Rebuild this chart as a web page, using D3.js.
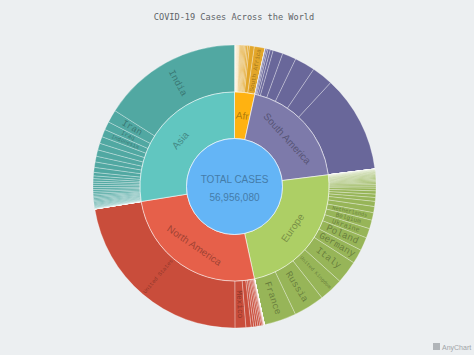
<!DOCTYPE html>
<html><head><meta charset="utf-8">
<script src="https://cdn.jsdelivr.net/npm/d3@7/dist/d3.min.js"></script>
<style>html,body{margin:0;padding:0;background:#ECEFF1;}svg{display:block}</style>
</head><body>
<svg id="chart" width="474" height="355"></svg>
<script>
const chartTitle = "COVID-19 Cases Across the World";
const centerTitle = "TOTAL CASES";
const totalCases = 56956080;

const continents = ["Africa", "South America", "Europe", "North America", "Asia"];

const africaNames = ["South Africa","Morocco","Egypt","Ethiopia","Tunisia","Libya","Kenya","Algeria","Nigeria","Ghana","Cameroon","Côte d'Ivoire","Uganda","Zambia","Madagascar","Sudan","Senegal","Mozambique","Angola","Namibia","Guinea","DR Congo","Cape Verde","Zimbabwe","Gabon","Botswana","Mauritania","Eswatini","Malawi","Rwanda","Djibouti","Congo","Equatorial Guinea","Central African Republic","Somalia","Mali","Gambia","South Sudan","Benin","Burkina Faso","Togo","Sierra Leone","Lesotho","Chad","Liberia","Niger","Sao Tome and Principe","Burundi","Comoros","Eritrea","Tanzania","Mauritius","Seychelles"];
const africaValues = [690000,318000,112000,104000,87000,78000,74000,71000,66000,51000,24000,21000,18000,17500,17300,16600,15900,14800,14400,14000,12900,12200,10300,9200,9100,8200,8000,6200,6000,5800,5700,5500,5100,4900,4400,4200,3700,3000,2800,2700,2700,2400,2000,1600,1500,1300,970,660,590,550,510,490,160];

const southAmericaNames = ["Brazil","Argentina","Colombia","Peru","Chile","Ecuador","Bolivia","Venezuela","Paraguay","French Guiana","Suriname","Guyana","Uruguay","Falkland Islands"];
const southAmericaValues = [6330000,1380000,1330000,900000,640000,190000,145000,100000,80000,11000,5400,5200,4300,20];

const europeNames = ["France","Russia","United Kingdom","Italy","Germany","Poland","Ukraine","Belgium","Netherlands","Czechia","Romania","Switzerland","Portugal","Austria","Sweden","Hungary","Serbia","Belarus","Bulgaria","Croatia","Moldova","Slovakia","Greece","Ireland","Denmark","Bosnia and Herzegovina","Slovenia","North Macedonia","Lithuania","Norway","Albania","Luxembourg","Montenegro","Finland","Kosovo","Latvia","Malta","Estonia","Andorra","Iceland","San Marino","Liechtenstein","Gibraltar","Jersey","Monaco","Faeroe Islands","Isle of Man","Guernsey","Vatican"];
const europeValues = [2100000,2000000,1560000,1480000,930000,860000,620000,560000,490000,400000,330000,250000,220000,210000,170000,130000,100000,100000,85000,80000,80000,75000,70000,62000,60000,58000,50000,45000,40000,31000,30000,29000,28000,21000,20000,10000,9000,8000,6000,5000,1500,1200,900,700,600,500,400,300,27];

const northAmericaNames = ["United States","Mexico","Canada","Panama","Dominican Republic","Costa Rica","Guatemala","Honduras","Puerto Rico","El Salvador","Jamaica","Haiti","Cuba","Guadeloupe","Bahamas","Trinidad and Tobago","Martinique","Belize","Aruba","Nicaragua","Curaçao","US Virgin Islands","Sint Maarten","Turks and Caicos","Cayman Islands","Barbados","Bermuda","Saint Lucia","Antigua and Barbuda","Saint Vincent","Dominica","Grenada","Saint Kitts and Nevis","Greenland"];
const northAmericaValues = [12800000,700000,340000,160000,140000,135000,120000,105000,80000,40000,10000,9000,8000,8000,7500,6500,5500,5000,5000,5000,1500,1500,1400,700,300,260,200,150,140,80,70,40,20,18];

const asiaNames = ["India","Iran","Iraq","Indonesia","Bangladesh","Turkey","Philippines","Pakistan","Saudi Arabia","Israel","Nepal","Jordan","United Arab Emirates","Kazakhstan","Kuwait","Qatar","Japan","Oman","Armenia","Lebanon","China","Azerbaijan","Georgia","Bahrain","Palestine","Myanmar","Kyrgyzstan","Uzbekistan","Singapore","Malaysia","Afghanistan","South Korea","Sri Lanka","Tajikistan","Maldives","Syria","Hong Kong","Thailand","Yemen","Vietnam","Taiwan","Mongolia","Bhutan","Cambodia","Brunei","Macao","Timor","Laos"];
const asiaValues = [9100000,830000,540000,490000,445000,440000,415000,370000,355000,325000,220000,180000,155000,140000,140000,137000,125000,121000,120000,110000,92000,92000,85000,85000,80000,75000,70000,70000,58000,55000,45000,31000,20000,12000,12000,7000,5600,3900,2000,1300,600,500,400,300,150,50,30,20];

const countryNames = [africaNames, southAmericaNames, europeNames, northAmericaNames, asiaNames];
const countryValues = [africaValues, southAmericaValues, europeValues, northAmericaValues, asiaValues];

// styles
const innerColors = ["#FFB211", "#7D7AAA", "#ADCF65", "#E6604A", "#61C6C0"];
const outerColors = ["#E2A62A", "#69679A", "#97B558", "#C94D3B", "#51A8A2"];
const centerColor = "#64B5F6";
const hideLeafLabels = ["South America"];

const W = 474, H = 355, cx = 234.5, cy = 186.5;
const rCenter = 48, rInner = 94.5, rOuter = 141.5;

const data = {
  name: "World",
  children: continents.map((c, i) => ({
    name: c, ci: i,
    children: countryNames[i].map((n, j) => ({ name: n, ci: i, value: countryValues[i][j] }))
  }))
};

const root = d3.hierarchy(data).sum(d => d.value || 0).sort((a, b) => a.value - b.value);
d3.partition().size([2 * Math.PI, 1])(root);

const svg = d3.select("#chart");
svg.append("rect").attr("width", W).attr("height", H).attr("fill", "#ECEFF1");

svg.append("text").attr("x", W / 2 - 3).attr("y", 20).attr("text-anchor", "middle")
  .attr("font-family", "'DejaVu Sans Mono', monospace").attr("font-size", 8.6)
  .attr("fill", "#606468").text(chartTitle);

const g = svg.append("g").attr("transform", `translate(${cx},${cy})`);

const radii = { 1: [rCenter, rInner], 2: [rInner, rOuter] };
const arc = d3.arc()
  .startAngle(d => d.x0).endAngle(d => d.x1)
  .innerRadius(d => radii[d.depth][0]).outerRadius(d => radii[d.depth][1]);

const level1 = root.children;
const level2 = root.leaves();

g.selectAll("path.l2").data(level2).join("path").attr("class", "l2")
  .attr("d", arc).attr("fill", d => outerColors[d.data.ci])
  .attr("stroke", "rgba(255,255,255,0.42)").attr("stroke-width", 0.7);

g.selectAll("path.l1").data(level1).join("path").attr("class", "l1")
  .attr("d", arc).attr("fill", d => innerColors[d.data.ci])
  .attr("stroke", "rgba(255,255,255,0.55)").attr("stroke-width", 1);

g.append("circle").attr("r", rCenter).attr("fill", centerColor)
  .attr("stroke", "rgba(255,255,255,0.6)").attr("stroke-width", 1);

// center texts
const centerTextColor = d3.color(centerColor).darker(1.05).formatHex();
g.append("text").attr("y", -7).attr("text-anchor", "middle").attr("dominant-baseline", "central")
  .attr("font-family", "'Liberation Sans', Arial, sans-serif").attr("font-size", 10)
  .attr("fill", centerTextColor).text(centerTitle);
g.append("text").attr("y", 11).attr("text-anchor", "middle").attr("dominant-baseline", "central")
  .attr("font-family", "'Liberation Sans', Arial, sans-serif").attr("font-size", 10)
  .attr("fill", centerTextColor).text(d3.format(",")(totalCases));

// inner (tangential) labels
const rMid1 = (rCenter + rInner) / 2;
level1.forEach(d => {
  const a = (d.x0 + d.x1) / 2;
  const deg = a * 180 / Math.PI;
  const rot = (deg > 90 && deg < 270) ? deg - 180 : deg;
  const x = rMid1 * Math.sin(a), y = -rMid1 * Math.cos(a);
  const t = g.append("text")
    .attr("transform", `translate(${x},${y}) rotate(${rot})`)
    .attr("text-anchor", "middle").attr("dominant-baseline", "central")
    .attr("font-family", "'Liberation Sans', Arial, sans-serif").attr("font-size", 10)
    .attr("fill", d3.color(innerColors[d.data.ci]).darker(1.3).formatHex())
    .attr("fill-opacity", 0.85)
    .text(d.data.name);
  const avail = (d.x1 - d.x0) * rMid1 - 2;
  let s = d.data.name;
  while (s.length > 1 && t.node().getComputedTextLength() > avail) {
    s = s.slice(0, -1); t.text(s);
  }
});

// outer (radial) labels
const rMid2 = (rInner + rOuter) / 2;
const radialLen = rOuter - rInner - 4;
level2.forEach(d => {
  if (hideLeafLabels.includes(continents[d.data.ci])) return;
  const a = (d.x0 + d.x1) / 2;
  const arcW = (d.x1 - d.x0) * rMid2;
  if (arcW < 6.1) return;
  const n = d.data.name.length;
  const fs = Math.min(9.5, radialLen / (n * 0.6), arcW * 0.85);
  if (fs < 4) return;
  const deg = a * 180 / Math.PI;
  const rot = deg < 180 ? deg - 90 : deg + 90;
  const x = rMid2 * Math.sin(a), y = -rMid2 * Math.cos(a);
  g.append("text")
    .attr("transform", `translate(${x},${y}) rotate(${rot})`)
    .attr("text-anchor", "middle").attr("dominant-baseline", "central")
    .attr("font-family", "'Liberation Mono', 'Courier New', monospace").attr("font-size", fs)
    .attr("fill", d3.color(outerColors[d.data.ci]).darker(1.2).formatHex())
    .attr("fill-opacity", 0.85)
    .text(d.data.name);
});

// credits
const cr = svg.append("g").attr("transform", "translate(433,343)");
cr.append("rect").attr("width", 7).attr("height", 7).attr("fill", "#b0b4b8");
cr.append("text").attr("x", 9).attr("y", 6.5).attr("font-family", "'Liberation Sans', Arial, sans-serif")
  .attr("font-size", 7).attr("fill", "#a0a4a8").text("AnyChart");
</script>
</body></html>
